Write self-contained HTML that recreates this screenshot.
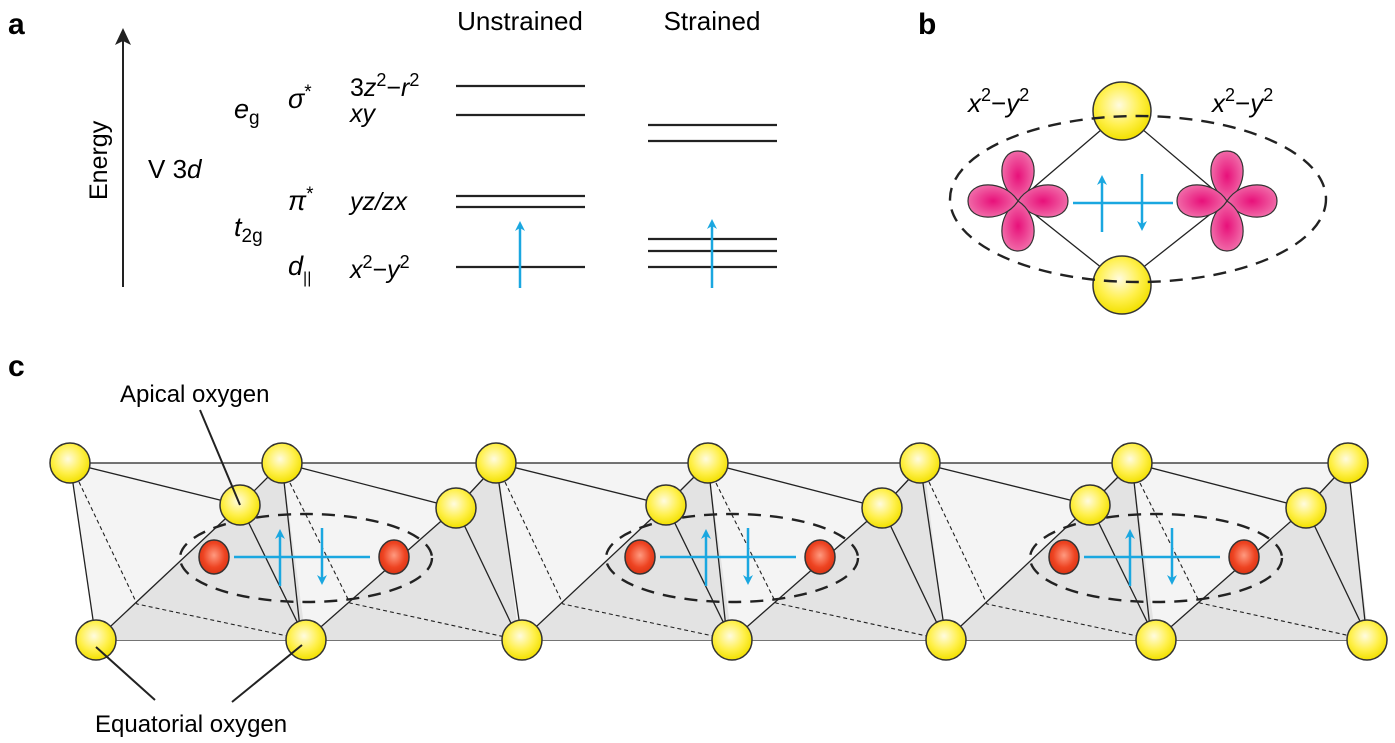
<!DOCTYPE html>
<html><head><meta charset="utf-8"><style>
html,body{margin:0;padding:0;background:#fff;}
svg{display:block;font-family:"Liberation Sans","DejaVu Sans",sans-serif;}
.it{font-style:italic}
</style></head><body>
<svg width="1395" height="743" viewBox="0 0 1395 743" xmlns="http://www.w3.org/2000/svg">
<defs>
<radialGradient id="yg" cx="0.45" cy="0.4" r="0.6"><stop offset="0" stop-color="#fffbe0"/><stop offset="0.6" stop-color="#fff04a"/><stop offset="1" stop-color="#f2e000"/></radialGradient>
<radialGradient id="rg" cx="0.5" cy="0.45" r="0.6"><stop offset="0" stop-color="#ff9a80"/><stop offset="0.6" stop-color="#ee4422"/><stop offset="1" stop-color="#d63010"/></radialGradient>
<radialGradient id="pg" cx="0.5" cy="0.5" r="0.6"><stop offset="0" stop-color="#e8107a"/><stop offset="1" stop-color="#f27ab0"/></radialGradient>
<marker id="ah" markerWidth="10" markerHeight="10" refX="5" refY="5" orient="auto" markerUnits="userSpaceOnUse"><path d="M0,0 L10,5 L0,10 L3,5 z" fill="#1aa7e0"/></marker>
<g id="octA">
  <polygon points="240,505 282,463 306,640 96,640" fill="#e3e3e3"/>
  <polygon points="456,508 498,463 519,640 306,640" fill="#e3e3e3"/>
  <g stroke="#222" stroke-width="1.3" fill="none">
    <line x1="70" y1="463" x2="240" y2="505"/>
    <line x1="240" y1="505" x2="282" y2="463"/>
    <line x1="240" y1="505" x2="96" y2="640"/>
    <line x1="240" y1="505" x2="306" y2="640"/>
    <line x1="282" y1="463" x2="300" y2="628"/>
    <line x1="282" y1="463" x2="456" y2="508"/>
    <line x1="456" y1="508" x2="306" y2="640"/>
    <line x1="456" y1="508" x2="498" y2="463"/>
    <line x1="456" y1="508" x2="519" y2="640"/>
    <line x1="70" y1="463" x2="96" y2="640"/>
  </g>
  <g stroke="#222" stroke-width="1.1" stroke-dasharray="4,3" fill="none">
    <polyline points="70,463 137,604 306,640"/>
    <polyline points="290,483 350,603 519,640"/>
  </g>
</g>
<g id="octB">
  <ellipse cx="306" cy="558" rx="126" ry="44" fill="none" stroke="#222" stroke-width="2.4" stroke-dasharray="13,9"/>
  <line x1="234" y1="557" x2="370" y2="557" stroke="#1aa7e0" stroke-width="2.5"/>
  <line x1="280" y1="586" x2="280" y2="534" stroke="#1aa7e0" stroke-width="2.5" marker-end="url(#ah)"/>
  <line x1="322" y1="528" x2="322" y2="580" stroke="#1aa7e0" stroke-width="2.5" marker-end="url(#ah)"/>
  <g stroke="#333" stroke-width="1.5">
    <circle cx="70" cy="463" r="20" fill="url(#yg)"/>
    <circle cx="282" cy="463" r="20" fill="url(#yg)"/>
    <circle cx="240" cy="505" r="20" fill="url(#yg)"/>
    <circle cx="456" cy="508" r="20" fill="url(#yg)"/>
    <circle cx="96" cy="640" r="20" fill="url(#yg)"/>
    <circle cx="306" cy="640" r="20" fill="url(#yg)"/>
    <ellipse cx="214" cy="557" rx="15" ry="17" fill="url(#rg)"/>
    <ellipse cx="394" cy="557" rx="15" ry="17" fill="url(#rg)"/>
  </g>
</g>
<g id="lobe"><path d="M0,0 C-22,-14 -21,-50 0,-50 C21,-50 22,-14 0,0 z" fill="url(#pg)" stroke="#333" stroke-width="1.2"/></g>
</defs>

<!-- panel labels -->
<text x="8" y="34" font-size="30" font-weight="bold">a</text>
<text x="918" y="34" font-size="30" font-weight="bold">b</text>
<text x="8" y="376" font-size="30" font-weight="bold">c</text>

<!-- panel a -->
<line x1="123" y1="287" x2="123" y2="40" stroke="#222" stroke-width="2"/>
<path d="M115,45 L123,28 L131,45 L123,41 z" fill="#222"/>
<text x="0" y="0" font-size="25" transform="translate(107,200) rotate(-90)">Energy</text>
<text x="148" y="178" font-size="26">V  3<tspan class="it">d</tspan></text>
<text x="234" y="118" font-size="27" class="it">e<tspan font-size="19" dy="6" font-style="normal">g</tspan></text>
<text x="234" y="236" font-size="27" class="it">t<tspan font-size="19" dy="6" font-style="normal">2g</tspan></text>
<text x="288" y="108" font-size="27" class="it">σ<tspan font-size="19" dy="-10" font-style="normal">*</tspan></text>
<text x="288" y="210" font-size="27" class="it">π<tspan font-size="19" dy="-10" font-style="normal">*</tspan></text>
<text x="288" y="275" font-size="27" class="it">d<tspan font-size="16" dy="8" font-style="normal">||</tspan></text>
<text x="350" y="96" font-size="25">3<tspan class="it">z</tspan><tspan font-size="18" dy="-10">2</tspan><tspan dy="10">−</tspan><tspan class="it">r</tspan><tspan font-size="18" dy="-10">2</tspan></text>
<text x="350" y="122" font-size="25" class="it">xy</text>
<text x="350" y="210" font-size="25" class="it">yz/zx</text>
<text x="350" y="278" font-size="25"><tspan class="it">x</tspan><tspan font-size="18" dy="-10">2</tspan><tspan dy="10">−</tspan><tspan class="it">y</tspan><tspan font-size="18" dy="-10">2</tspan></text>
<text x="520" y="30" font-size="26" text-anchor="middle">Unstrained</text>
<text x="712" y="30" font-size="26" text-anchor="middle">Strained</text>
<g stroke="#222" stroke-width="2.2">
<line x1="456" y1="86" x2="585" y2="86"/><line x1="456" y1="115" x2="585" y2="115"/>
<line x1="456" y1="196" x2="585" y2="196"/><line x1="456" y1="207" x2="585" y2="207"/>
<line x1="456" y1="267" x2="585" y2="267"/>
<line x1="648" y1="125" x2="777" y2="125"/><line x1="648" y1="141" x2="777" y2="141"/>
<line x1="648" y1="239" x2="777" y2="239"/><line x1="648" y1="251" x2="777" y2="251"/>
<line x1="648" y1="267" x2="777" y2="267"/>
</g>
<line x1="520" y1="288" x2="520" y2="226" stroke="#1aa7e0" stroke-width="2.5" marker-end="url(#ah)"/>
<line x1="712" y1="288" x2="712" y2="224" stroke="#1aa7e0" stroke-width="2.5" marker-end="url(#ah)"/>

<!-- panel b -->
<g stroke="#222" stroke-width="1.3">
<line x1="1018" y1="201" x2="1122" y2="112"/><line x1="1018" y1="201" x2="1122" y2="284"/>
<line x1="1227" y1="201" x2="1122" y2="112"/><line x1="1227" y1="201" x2="1122" y2="284"/>
</g>
<circle cx="1122" cy="111" r="29" fill="url(#yg)" stroke="#333" stroke-width="1.5"/>
<circle cx="1122" cy="285" r="29" fill="url(#yg)" stroke="#333" stroke-width="1.5"/>
<ellipse cx="1138" cy="199" rx="188" ry="83" fill="none" stroke="#222" stroke-width="2.4" stroke-dasharray="13,9"/>
<g transform="translate(1018,201)"><use href="#lobe"/><use href="#lobe" transform="rotate(90)"/><use href="#lobe" transform="rotate(180)"/><use href="#lobe" transform="rotate(270)"/></g>
<g transform="translate(1227,201)"><use href="#lobe"/><use href="#lobe" transform="rotate(90)"/><use href="#lobe" transform="rotate(180)"/><use href="#lobe" transform="rotate(270)"/></g>
<line x1="1073" y1="203" x2="1173" y2="203" stroke="#1aa7e0" stroke-width="2.5"/>
<line x1="1102" y1="232" x2="1102" y2="180" stroke="#1aa7e0" stroke-width="2.5" marker-end="url(#ah)"/>
<line x1="1142" y1="174" x2="1142" y2="226" stroke="#1aa7e0" stroke-width="2.5" marker-end="url(#ah)"/>
<text x="968" y="112" font-size="26"><tspan class="it">x</tspan><tspan font-size="18" dy="-11">2</tspan><tspan dy="11">−</tspan><tspan class="it">y</tspan><tspan font-size="18" dy="-11">2</tspan></text>
<text x="1212" y="112" font-size="26"><tspan class="it">x</tspan><tspan font-size="18" dy="-11">2</tspan><tspan dy="11">−</tspan><tspan class="it">y</tspan><tspan font-size="18" dy="-11">2</tspan></text>

<!-- panel c -->
<polygon points="70,463 1348,463 1367,640 96,640" fill="#f4f4f4"/>
<line x1="70" y1="463" x2="1348" y2="463" stroke="#222" stroke-width="1.3"/>
<line x1="96" y1="640" x2="1367" y2="640" stroke="#222" stroke-width="1.3"/>
<use href="#octA"/>
<use href="#octA" transform="translate(426,0)"/>
<use href="#octA" transform="translate(850,0)"/>
<line x1="1348" y1="463" x2="1367" y2="640" stroke="#222" stroke-width="1.3"/>
<use href="#octB"/>
<use href="#octB" transform="translate(426,0)"/>
<use href="#octB" transform="translate(850,0)"/>
<circle cx="1348" cy="463" r="20" fill="url(#yg)" stroke="#333" stroke-width="1.5"/>
<circle cx="1367" cy="640" r="20" fill="url(#yg)" stroke="#333" stroke-width="1.5"/>
<g stroke="#222" stroke-width="2">
<line x1="200" y1="410" x2="240" y2="505"/>
<line x1="155" y1="700" x2="96" y2="647"/>
<line x1="232" y1="702" x2="302" y2="645"/>
</g>
<text x="120" y="402" font-size="24">Apical oxygen</text>
<text x="95" y="732" font-size="24">Equatorial oxygen</text>
</svg>
</body></html>
